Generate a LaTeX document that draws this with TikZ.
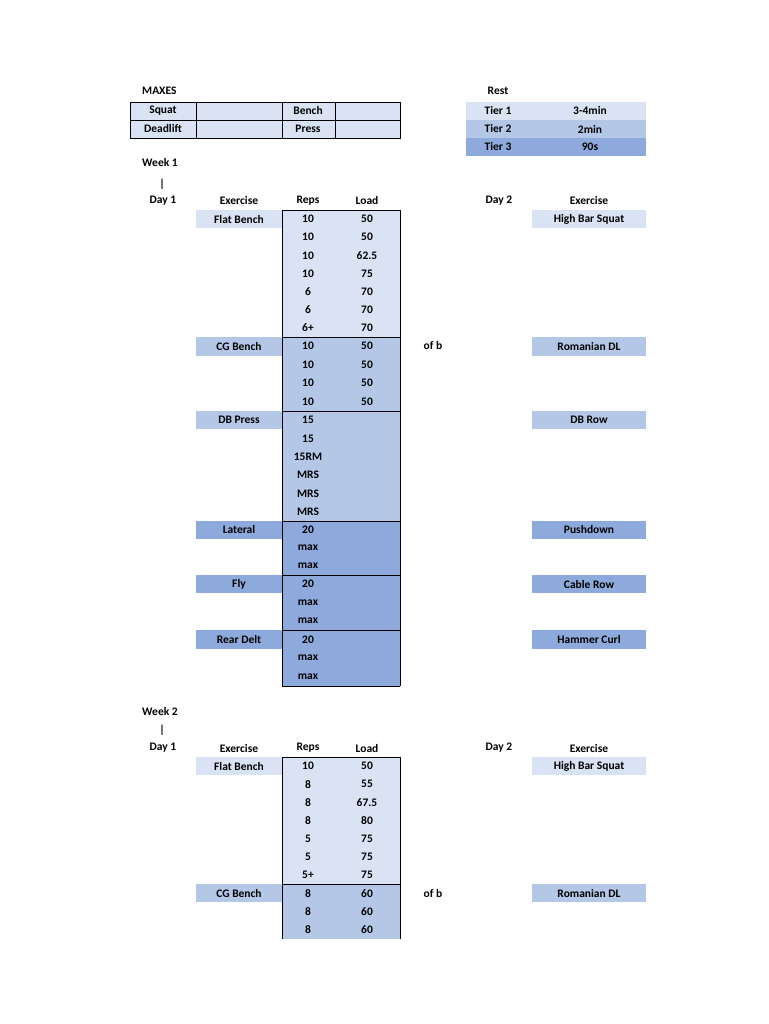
\documentclass[tikz,border=0pt]{standalone}
\usepackage{fontspec}
\setmainfont{Carlito}
\definecolor{tierA}{HTML}{DAE3F3}
\definecolor{tierB}{HTML}{B4C7E7}
\definecolor{tierC}{HTML}{8EA9DB}
\tikzset{lbl/.style={font=\fontsize{11.5}{13}\selectfont\bfseries, inner sep=0pt},
  gridline/.style={draw=black, line width=0.9pt}}
% #1 id, #2 top, #3 bottom, #4 rows, #5 colour, #6 exercise, #7 day 2 exercise, #8 reps/load
\newcommand{\liftblock}[8]{%
  \pgfmathsetmacro\rh{(#3-#2)/#4}
  \fill[#5] (282,#2) rectangle (400,#3);
  \fill[#5] (196,#2) rectangle (282,{#2+\rh});
  \fill[#5] (532,#2) rectangle (646,{#2+\rh});
  \node[lbl] (#1ex) at (239,{#2+\rh/2}) {#6};
  \node[lbl] (#1dd) at (589,{#2+\rh/2}) {#7};
  \foreach \r/\l [count=\i] in {#8} {
    \node[lbl] (#1r\i) at (308,{#2+(\i-0.5)*\rh}) {\r};
    \node[lbl] (#1l\i) at (367,{#2+(\i-0.5)*\rh}) {\l};
  }
  \draw[gridline] (282,#3) -- (282,#2) -- (400,#2) -- (400,#3);
}
\begin{document}
\begin{tikzpicture}[x=1pt,y=-1pt]
  \useasboundingbox[fill=white] (0,0) rectangle (768,1024);
  % maxes
  \node[lbl, anchor=west] (maxes) at (142,91) {MAXES};
  \fill[tierA] (130,102) rectangle (400,138);
  \draw[gridline] (130,102) rectangle (400,138) (130,120) -- (400,120)
    (196,102) -- (196,138) (282,102) -- (282,138) (335,102) -- (335,138);
  \node[lbl] (squat) at (163,111) {Squat};
  \node[lbl] (dead) at (163,129) {Deadlift};
  \node[lbl] (bench) at (308,111) {Bench};
  \node[lbl] (press) at (308,129) {Press};
  % rest
  \node[lbl] (rest) at (498,91) {Rest};
  \fill[tierA] (466,102) rectangle (646,120);
  \fill[tierB] (466,120) rectangle (646,138);
  \fill[tierC] (466,138) rectangle (646,156);
  \node[lbl] (t1) at (498,111) {Tier 1};
  \node[lbl] (t1v) at (590,111) {3-4min};
  \node[lbl] (t2) at (498,129) {Tier 2};
  \node[lbl] (t2v) at (590,129) {2min};
  \node[lbl] (t3) at (498,147) {Tier 3};
  \node[lbl] (t3v) at (590,147) {90s};
  % week 1
  \node[lbl, anchor=west] (wk1) at (142,163) {Week 1};
  \node[lbl] (bar1) at (162,184) {|};
  \node[lbl] (d1a) at (163,201) {Day 1};
  \node[lbl] (exa) at (239,201) {Exercise};
  \node[lbl] (repa) at (308,201) {Reps};
  \node[lbl] (loada) at (367,201) {Load};
  \node[lbl] (d2a) at (499,201) {Day 2};
  \node[lbl] (exb) at (589,201) {Exercise};
  \liftblock{fb}{210}{337}{7}{tierA}{Flat Bench}{High Bar Squat}{10/50,10/50,10/62.5,10/75,6/70,6/70,6+/70}
  \liftblock{cg}{337}{411}{4}{tierB}{CG Bench}{Romanian DL}{10/50,10/50,10/50,10/50}
  \liftblock{db}{411}{521}{6}{tierB}{DB Press}{DB Row}{15/{},15/{},15RM/{},MRS/{},MRS/{},MRS/{}}
  \liftblock{lat}{521}{575}{3}{tierC}{Lateral}{Pushdown}{20/{},max/{},max/{}}
  \liftblock{fly}{575}{630}{3}{tierC}{Fly}{Cable Row}{20/{},max/{},max/{}}
  \liftblock{rd}{630}{686}{3}{tierC}{Rear Delt}{Hammer Curl}{20/{},max/{},max/{}}
  \draw[gridline] (282,686) -- (400,686);
  \node[lbl] (ofb1) at (433,346) {of b};
  % week 2
  \node[lbl, anchor=west] (wk2) at (142,711) {Week 2};
  \node[lbl] (bar2) at (162,730) {|};
  \node[lbl] (d1b) at (163,748) {Day 1};
  \node[lbl] (exc) at (239,748) {Exercise};
  \node[lbl] (repb) at (308,748) {Reps};
  \node[lbl] (loadb) at (367,748) {Load};
  \node[lbl] (d2b) at (499,748) {Day 2};
  \node[lbl] (exd) at (589,748) {Exercise};
  \liftblock{fbb}{757}{884}{7}{tierA}{Flat Bench}{High Bar Squat}{10/50,8/55,8/67.5,8/80,5/75,5/75,5+/75}
  \liftblock{cgb}{884}{939}{3}{tierB}{CG Bench}{Romanian DL}{8/60,8/60,8/60}
  \node[lbl] (ofb2) at (433,893) {of b};
\end{tikzpicture}
\end{document}
